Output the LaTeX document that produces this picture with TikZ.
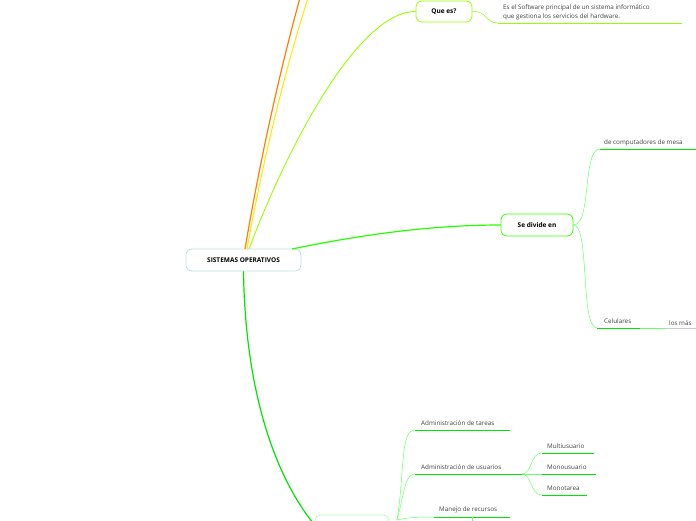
\documentclass[tikz,border=0pt]{standalone}
\usepackage{fontspec}
\setmainfont{Open Sans}
\begin{document}
\begin{tikzpicture}[x=1pt,y=-1pt,
  lbl/.style={anchor=base west,inner sep=0pt,font=\fontsize{6.3}{7.5}\selectfont,text=black!75},
  box/.style={draw,rounded corners=6pt,line width=0.8pt,font=\bfseries\fontsize{6.5}{8}\selectfont,inner sep=0pt},
  ul/.style={line width=1pt,draw=green!90!black},
  thin/.style={line width=0.5pt,draw=green!60!white}]
\useasboundingbox (0,0) rectangle (696,520);
% root
\node[box,draw=teal!25,minimum width=115pt,minimum height=22pt] (root) at (243.5,260) {SISTEMAS OPERATIVOS};
% orange/yellow
\coordinate (oT) at (300,-2); \coordinate (yT) at (308,-2);
\draw[orange,line width=1.2pt] (245,249) .. controls (260,160) and (280,70) .. (oT);
\draw[yellow!90!orange,line width=1pt] (247,249) .. controls (263,160) and (285,70) .. (yT);
% Que es
\node[box,draw=lime!80!green,minimum width=56pt,minimum height=21pt] (q) at (444,11.5) {Que es?};
\draw[lime!80!green,line width=0.9pt] (249,249) .. controls (290,140) and (360,11) .. (q.west);
\node[lbl] (qt1) at (503,9) {Es el Software principal de un sistema informático};
\node[lbl] (qt2) at (503,18) {que gestiona los servicios del hardware.};
\coordinate (qa) at (498,23); \coordinate (qb) at (682,23);
\draw[lime!70!green,line width=0.5pt] (q.east) .. controls (488,11) and (485,23) .. (qa);
\draw[lime!80!green,line width=1pt] (qa) -- (qb);
% Se divide en
\node[box,draw=green!70!lime,minimum width=72pt,minimum height=22pt] (s) at (537,225) {Se divide en};
\draw[green!80!lime,line width=1.2pt] (292,249) .. controls (360,235) and (430,225) .. (s.west);
\node[lbl] (d1) at (604,144) {de computadores de mesa};
\coordinate (d1a) at (600,149); \coordinate (d1b) at (696,149);
\draw[thin] (s.east) .. controls (592,225) and (582,149) .. (d1a);
\draw[ul] (d1a) -- (d1b);
\node[lbl] (c1) at (604,323) {Celulares};
\coordinate (c1a) at (597,328); \coordinate (c1b) at (640,328);
\draw[thin] (s.east) .. controls (590,225) and (580,328) .. (c1a);
\draw[ul] (c1a) -- (c1b);
\node[lbl] (lm) at (669,325) {los más};
\coordinate (lma) at (665,328); \coordinate (lmb) at (696,328);
\draw[thin] (c1b) -- (lma);
\draw[gray!40,line width=1pt] (lma) -- (lmb);
% bottom
\node[draw=green!30,rounded corners=6pt,line width=0.8pt,minimum width=74pt,minimum height=20pt] (f) at (352,525) {};
\draw[green!90!black,line width=1.2pt] (root.south) .. controls (245,380) and (270,470) .. (f.west);
\node[lbl] (a1) at (421,425) {Administración de tareas};
\coordinate (a1a) at (415,430); \coordinate (a1b) at (510,430);
\node[lbl] (a2) at (421,469) {Administración de usuarios};
\coordinate (a2a) at (415,474); \coordinate (a2b) at (522,474);
\node[lbl] (a3) at (439,511) {Manejo de recursos};
\coordinate (a3a) at (434,517); \coordinate (a3b) at (510,517);
\coordinate (fr) at (397,520);
\draw[thin] (fr) .. controls (405,470) and (400,430) .. (a1a);
\draw[thin] (fr) .. controls (405,490) and (405,474) .. (a2a);
\draw[thin] (fr) .. controls (410,517) and (420,517) .. (a3a);
\draw[ul] (a1a) -- (a1b); \draw[ul] (a2a) -- (a2b); \draw[ul] (a3a) -- (a3b);
\draw[thin] (472,517) -- (472,521);
\node[lbl] (m1) at (547,448) {Multiusuario};
\coordinate (m1a) at (542,453); \coordinate (m1b) at (594,453);
\node[lbl] (m2) at (547,469) {Monousuario};
\coordinate (m2a) at (542,474); \coordinate (m2b) at (596,474);
\node[lbl] (m3) at (547,490) {Monotarea};
\coordinate (m3a) at (542,495); \coordinate (m3b) at (587,495);
\draw[thin] (a2b) .. controls (532,474) and (530,453) .. (m1a);
\draw[thin] (a2b) -- (m2a);
\draw[thin] (a2b) .. controls (532,474) and (530,495) .. (m3a);
\draw[ul] (m1a) -- (m1b); \draw[ul] (m2a) -- (m2b); \draw[ul] (m3a) -- (m3b);
\end{tikzpicture}
\end{document}
